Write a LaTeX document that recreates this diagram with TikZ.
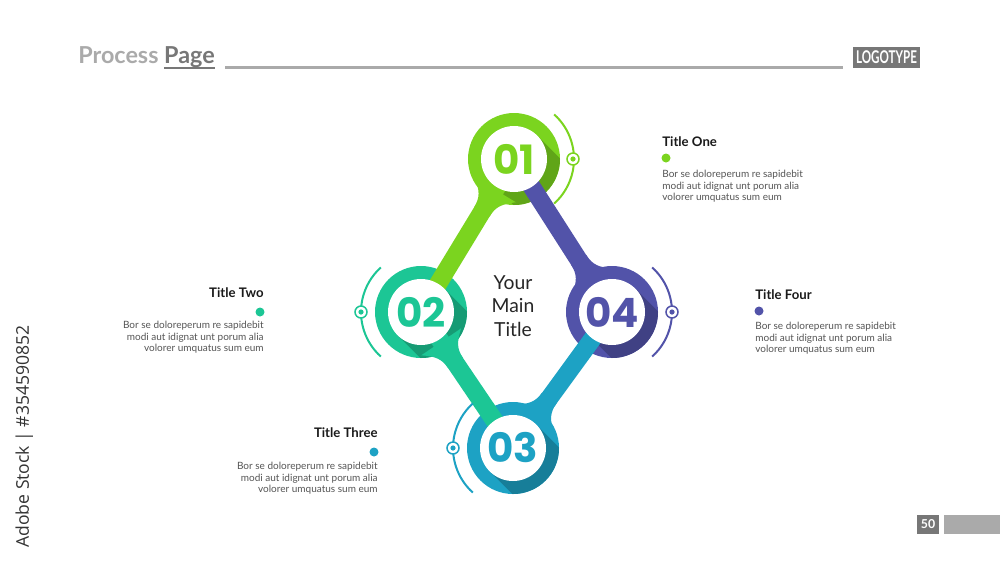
\documentclass[tikz,border=0pt]{standalone}
\usepackage{fontspec}
\setmainfont{Lato}
\newfontfamily\numfont{Poppins}
\newfontfamily\wmfont{Open Sans}
\usetikzlibrary{calc}
\definecolor{cA}{HTML}{7BD41F}
\definecolor{cB}{HTML}{1CC695}
\definecolor{cC}{HTML}{1DA2C4}
\definecolor{cD}{HTML}{5253A9}
\definecolor{hdrlight}{HTML}{AAAAAA}
\definecolor{hdrdark}{HTML}{777777}
\definecolor{bodygray}{HTML}{555555}
\definecolor{titleblack}{HTML}{1A1A1A}
\begin{document}
\begin{tikzpicture}[x=0.02cm,y=-0.02cm,
  ring/.style={circle, minimum size=1.84cm, inner sep=0pt},
  hole/.style={circle, fill=white, minimum size=1.32cm, inner sep=0pt, font=\numfont\bfseries\fontsize{23}{23}\selectfont},
  bar/.style={line width=0.36cm},
  sidearc/.style={line width=0.04cm},
  marker/.style={circle, fill=white, minimum size=0.24cm, inner sep=0pt, line width=0.03cm},
  ttl/.style={inner sep=0pt, font=\bfseries\fontsize{7.5}{9}\selectfont, text=titleblack},
  body/.style={inner sep=0pt, font=\fontsize{5.7}{6.6}\selectfont, text=bodygray},
  dotmark/.style={circle, minimum size=0.18cm, inner sep=0pt}
]
\useasboundingbox (0,0) rectangle (1000,562);
\fill[white] (0,0) rectangle (1000,562);

% header
\node[anchor=base west, inner sep=0pt, font=\bfseries\fontsize{13.3}{13.3}\selectfont] (hdr) at (78,63) {\textcolor{hdrlight}{Process} \textcolor{hdrdark}{Page}};
\coordinate (ul1) at (164,68);
\coordinate (ul2) at (215,68);
\draw[hdrdark, line width=0.05cm] (ul1) -- (ul2);
\coordinate (hl1) at (225,67);
\coordinate (hl2) at (843,67);
\draw[hdrlight, line width=0.06cm] (hl1) -- (hl2);
\node[fill=hdrdark, minimum width=1.34cm, minimum height=0.42cm, inner sep=0pt, text=white, font=\bfseries\fontsize{10}{10}\selectfont] (logo) at (886.5,57.5) {\scalebox{0.66}[1]{LOGOTYPE}};

% footer
\node[fill=hdrdark, minimum width=0.44cm, minimum height=0.38cm, inner sep=0pt, text=white, font=\bfseries\fontsize{7}{7}\selectfont] (pg) at (928,524.5) {50};
\fill[hdrlight] (944,515) rectangle (1000,534);

% watermark label
\node[rotate=90, anchor=base west, inner sep=0pt, text=black!80, font=\wmfont\fontsize{10}{10}\selectfont] (wm) at (29,548) {Adobe Stock | \#354590852};

% rings
\node[ring, fill=cA] (r1) at (514,159) {};
\node[ring, fill=cB] (r2) at (421,312) {};
\node[ring, fill=cC] (r3) at (513,448) {};
\node[ring, fill=cD] (r4) at (612,312) {};

% long shadows
\foreach \r/\c in {r1/cA, r2/cB, r3/cC, r4/cD}{
  \begin{scope}[shift={(\r.center)}]
    \clip (0,0) circle (46);
    \fill[\c!78!black] (23.3,-23.3) -- (94,47.4) -- (47.4,94) -- (-23.3,23.3) -- cycle;
  \end{scope}
}

% connectors
\draw[bar, cA] (r1.center) -- (r2.center);
\draw[bar, cB] (r2.center) -- (r3.center);
\draw[bar, cC] (r3.center) -- (r4.center);
\draw[bar, cD] (r4.center) -- (r1.center);

% flares
\foreach \r/\c/\a in {r1/cA/-121.3, r2/cB/-55.9, r3/cC/54.0, r4/cD/122.6}{
  \begin{scope}[shift={(\r.center)}, rotate=\a]
    \fill[\c] (36,24) .. controls (45,13) and (50,9) .. (62,9) -- (62,-9) .. controls (50,-9) and (45,-13) .. (36,-24) -- cycle;
  \end{scope}
}

% holes with numbers
\node[hole, text=cA] (n1) at (r1) {01};
\node[hole, text=cB] (n2) at (r2) {02};
\node[hole, text=cC] (n3) at (r3) {03};
\node[hole, text=cD] (n4) at (r4) {04};

% side arcs
\draw[sidearc, cA] (r1.center) ++(-48:60) arc (-48:48:60);
\draw[sidearc, cB] (r2.center) ++(132:60) arc (132:228:60);
\draw[sidearc, cC] (r3.center) ++(132:60) arc (132:228:60);
\draw[sidearc, cD] (r4.center) ++(-48:60) arc (-48:48:60);
\node[marker, draw=cA] (m1) at ($(r1.center)+(59,0)$) {};
\node[marker, draw=cB] (m2) at ($(r2.center)+(-60,0)$) {};
\node[marker, draw=cC] (m3) at ($(r3.center)+(-60,0)$) {};
\node[marker, draw=cD] (m4) at ($(r4.center)+(60,0)$) {};
\foreach \m/\c in {m1/cA, m2/cB, m3/cC, m4/cD}{
  \fill[\c] (\m) circle (2.6);
}

% center title
\node[align=center, inner sep=0pt, text=black!85, font=\fontsize{11}{13.3}\selectfont] (main) at (513,306) {Your\\Main\\Title};

% text blocks
\node[ttl, anchor=base west] (t1) at (662,146) {Title One};
\node[dotmark, fill=cA] (d1) at (666,158) {};
\node[body, anchor=north west, align=left] (b1) at (662,170) {Bor se doloreperum re sapidebit\\modi aut idignat unt porum alia\\volorer umquatus sum eum};

\node[ttl, anchor=base east] (t2) at (264,297) {Title Two};
\node[dotmark, fill=cB] (d2) at (260,312) {};
\node[body, anchor=north east, align=right] (b2) at (264,321) {Bor se doloreperum re sapidebit\\modi aut idignat unt porum alia\\volorer umquatus sum eum};

\node[ttl, anchor=base east] (t3) at (378,437) {Title Three};
\node[dotmark, fill=cC] (d3) at (374,452) {};
\node[body, anchor=north east, align=right] (b3) at (378,462) {Bor se doloreperum re sapidebit\\modi aut idignat unt porum alia\\volorer umquatus sum eum};

\node[ttl, anchor=base west] (t4) at (755,299) {Title Four};
\node[dotmark, fill=cD] (d4) at (759,311) {};
\node[body, anchor=north west, align=left] (b4) at (755,322) {Bor se doloreperum re sapidebit\\modi aut idignat unt porum alia\\volorer umquatus sum eum};
\end{tikzpicture}
\end{document}
